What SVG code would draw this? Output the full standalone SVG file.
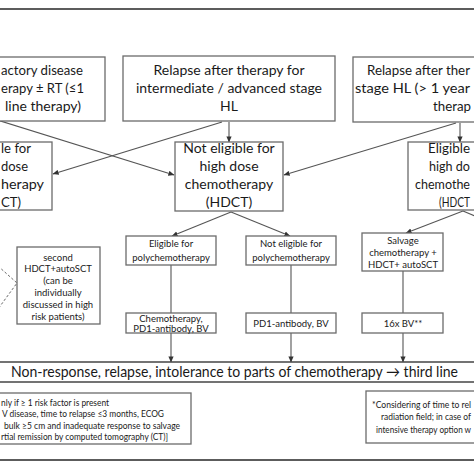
<svg xmlns="http://www.w3.org/2000/svg" width="474" height="474" viewBox="0 0 474 474">
<style>
.bg{fill:#fff}
.box{fill:#fff;stroke:#6b6b6b;stroke-width:1.3}
.rule{stroke:#262626;stroke-width:1.6}
.con{stroke:#555;stroke-width:1.1;fill:none}
.dash{stroke:#666;stroke-width:1;fill:none;stroke-dasharray:2.5,2}
text{font-family:Lato,"Open Sans","Liberation Sans",sans-serif;fill:#1a1a1a}
.l{font-size:14px;text-anchor:middle}
.ls{font-size:14px}
.s{font-size:9.5px;text-anchor:middle}
.f{font-size:9.5px}
.bar{font-size:15px}
</style>
<defs>
<marker id="ah" viewBox="0 0 8 8" refX="7.5" refY="4" markerWidth="6" markerHeight="6" orient="auto" markerUnits="userSpaceOnUse">
<path d="M0,0.5 L8,4 L0,7.5 z" fill="#333"/>
</marker>
</defs>
<rect class="bg" x="0" y="0" width="474" height="474"/>
<line class="rule" x1="0" y1="9" x2="474" y2="9"/>
<line class="rule" x1="0" y1="460" x2="474" y2="460"/>

<g id="connectors">
<line class="con" x1="-3" y1="120" x2="174" y2="175" marker-end="url(#ah)"/>
<line class="con" x1="222" y1="122" x2="53" y2="174" marker-end="url(#ah)"/>
<line class="con" x1="229" y1="122" x2="229" y2="142" marker-end="url(#ah)"/>
<line class="con" x1="456" y1="123" x2="284" y2="175" marker-end="url(#ah)"/>
<line class="con" x1="460" y1="123" x2="460" y2="142" marker-end="url(#ah)"/>
<line class="con" x1="231" y1="212" x2="172" y2="236" marker-end="url(#ah)"/>
<line class="con" x1="231" y1="212" x2="290" y2="236" marker-end="url(#ah)"/>
<line class="con" x1="463" y1="211" x2="406" y2="233" marker-end="url(#ah)"/>
<line class="con" x1="463" y1="211" x2="482" y2="219"/>
<line class="con" x1="171" y1="265" x2="171" y2="313"/>
<line class="con" x1="291" y1="265" x2="291" y2="313"/>
<line class="con" x1="403" y1="271" x2="403" y2="313"/>
<line class="con" x1="171" y1="333" x2="171" y2="362" marker-end="url(#ah)"/>
<line class="con" x1="291" y1="333" x2="291" y2="362" marker-end="url(#ah)"/>
<line class="con" x1="403" y1="333" x2="403" y2="362" marker-end="url(#ah)"/>
<polyline class="dash" points="-2,266 17,283 -2,309"/>
</g>

<g id="top-left">
<rect class="box" x="-60" y="57" width="165" height="64"/>
<text class="ls" x="1" y="75" textLength="82" lengthAdjust="spacingAndGlyphs">actory disease</text>
<text class="ls" x="1" y="93" textLength="83" lengthAdjust="spacingAndGlyphs">erapy ± RT (≤1</text>
<text class="ls" x="5" y="111" textLength="76" lengthAdjust="spacingAndGlyphs">line therapy)</text>
</g>

<g id="top-middle">
<rect class="box" x="123" y="56" width="212" height="65"/>
<text class="l" x="229" y="75">Relapse after therapy for</text>
<text class="l" x="229" y="93">intermediate / advanced stage</text>
<text class="l" x="229" y="111">HL</text>
</g>

<g id="top-right">
<rect class="box" x="353" y="57" width="160" height="65"/>
<text class="ls" x="367" y="75" textLength="103" lengthAdjust="spacingAndGlyphs">Relapse after ther</text>
<text class="ls" x="355" y="93" textLength="115" lengthAdjust="spacingAndGlyphs">stage HL (&gt; 1 year</text>
<text class="ls" x="433" y="111" textLength="38" lengthAdjust="spacingAndGlyphs">therap</text>
</g>

<g id="eligible-hdct-left">
<rect class="box" x="-60" y="142" width="112" height="68"/>
<text class="ls" x="1" y="153" textLength="30" lengthAdjust="spacingAndGlyphs">le for</text>
<text class="ls" x="1" y="171" textLength="27" lengthAdjust="spacingAndGlyphs">dose</text>
<text class="ls" x="1" y="189" textLength="43" lengthAdjust="spacingAndGlyphs">herapy</text>
<text class="ls" x="1" y="207" textLength="20" lengthAdjust="spacingAndGlyphs">CT)</text>
</g>

<g id="not-eligible-hdct">
<rect class="box" x="175" y="142" width="108" height="69"/>
<text class="l" x="229" y="153">Not eligible for</text>
<text class="l" x="229" y="171">high dose</text>
<text class="l" x="229" y="189">chemotherapy</text>
<text class="l" x="229" y="207">(HDCT)</text>
</g>

<g id="eligible-hdct-right">
<rect class="box" x="408" y="142" width="110" height="68"/>
<text class="ls" x="428" y="153" textLength="42" lengthAdjust="spacingAndGlyphs">Eligible</text>
<text class="ls" x="429" y="171" textLength="41" lengthAdjust="spacingAndGlyphs">high do</text>
<text class="ls" x="415" y="189" textLength="55" lengthAdjust="spacingAndGlyphs">chemothe</text>
<text class="ls" x="439" y="207" textLength="31" lengthAdjust="spacingAndGlyphs">(HDCT</text>
</g>

<g id="second-hdct">
<rect class="box" x="17" y="247" width="83" height="77"/>
<text class="s" x="58" y="260.5">second</text>
<text class="s" x="58" y="272">HDCT+autoSCT</text>
<text class="s" x="58" y="284">(can be</text>
<text class="s" x="58" y="296">individually</text>
<text class="s" x="58" y="308">discussed in high</text>
<text class="s" x="58" y="320">risk patients)</text>
</g>

<g id="eligible-poly">
<rect class="box" x="126" y="236" width="90" height="29"/>
<text class="s" x="171" y="247">Eligible for</text>
<text class="s" x="171" y="260.5">polychemotherapy</text>
</g>

<g id="not-eligible-poly">
<rect class="box" x="246" y="236" width="90" height="29"/>
<text class="s" x="291" y="247">Not eligible for</text>
<text class="s" x="291" y="260.5">polychemotherapy</text>
</g>

<g id="salvage">
<rect class="box" x="362" y="233" width="81" height="38"/>
<text class="s" x="403" y="243.5">Salvage</text>
<text class="s" x="403" y="256">chemotherapy +</text>
<text class="s" x="403" y="268">HDCT+ autoSCT</text>
</g>

<g id="chemo-pd1-bv">
<rect class="box" x="126" y="313" width="90" height="20"/>
<text class="s" x="171" y="321.5">Chemotherapy,</text>
<text class="s" x="171" y="332">PD1-antibody, BV</text>
</g>

<g id="pd1-bv">
<rect class="box" x="246" y="313" width="90" height="20"/>
<text class="s" x="291" y="327">PD1-antibody, BV</text>
</g>

<g id="bv16">
<rect class="box" x="362" y="313" width="81" height="20"/>
<text class="s" x="403" y="327">16x BV**</text>
</g>

<g id="third-line">
<rect x="0" y="362" width="474" height="20" fill="#fff"/>
<line x1="0" y1="362" x2="474" y2="362" stroke="#444" stroke-width="1.3"/>
<line x1="0" y1="382" x2="474" y2="382" stroke="#444" stroke-width="1.3"/>
<text class="bar" x="11" y="377" textLength="447" lengthAdjust="spacingAndGlyphs">Non-response, relapse, intolerance to parts of chemotherapy → third line</text>
</g>

<g id="footnote-left">
<rect class="box" x="-10" y="393" width="201" height="51"/>
<text class="f" x="1" y="406" textLength="108" lengthAdjust="spacingAndGlyphs">nly if ≥ 1 risk factor is present</text>
<text class="f" x="2" y="417" textLength="162" lengthAdjust="spacingAndGlyphs">V disease, time to relapse ≤3 months, ECOG</text>
<text class="f" x="4" y="428.5" textLength="176" lengthAdjust="spacingAndGlyphs">bulk ≥5 cm and inadequate response to salvage</text>
<text class="f" x="1" y="440" textLength="167" lengthAdjust="spacingAndGlyphs">rtial remission by computed tomography (CT)]</text>
</g>

<g id="footnote-right">
<rect class="box" x="366" y="391" width="120" height="52"/>
<text class="f" x="372" y="408" textLength="99" lengthAdjust="spacingAndGlyphs">*Considering of time to rel</text>
<text class="f" x="381" y="420" textLength="90" lengthAdjust="spacingAndGlyphs">radiation field; in case of</text>
<text class="f" x="376" y="433" textLength="95" lengthAdjust="spacingAndGlyphs">intensive therapy option w</text>
</g>
</svg>
